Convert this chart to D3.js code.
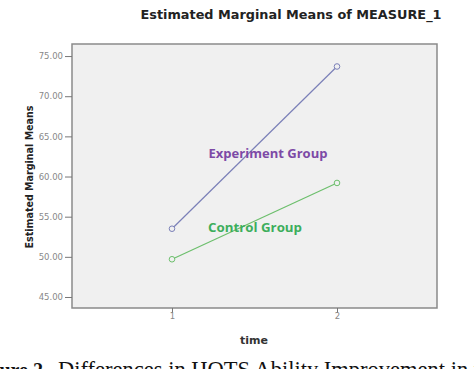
<!DOCTYPE html>
<html><head><meta charset="utf-8">
<script src="https://cdn.jsdelivr.net/npm/d3@7"></script>
<style>body{margin:0;background:#fff;overflow:hidden}</style>
</head><body>
<svg id="c" width="474" height="369"></svg>
<script>
const times = [1, 2];
const experiment = [53.5, 73.7];
const control = [49.7, 59.2];
const yTicks = [45, 50, 55, 60, 65, 70, 75];
const seriesNames = ["Experiment Group", "Control Group"];

const svg = d3.select("#c");
const x = d3.scaleLinear().domain([0.394, 2.606]).range([72, 437]);
const y = d3.scaleLinear().domain([43.63, 76.5]).range([308, 44]);

svg.append("rect").attr("x", 72).attr("y", 44).attr("width", 365).attr("height", 264)
  .attr("fill", "#f0f0f0").attr("stroke", "#8a8a8a").attr("stroke-width", 1.5);

const yAxis = svg.append("g").attr("transform", "translate(72,0)")
  .call(d3.axisLeft(y).tickValues(yTicks).tickFormat(d3.format(".2f")).tickSize(7).tickSizeOuter(0));
yAxis.select(".domain").remove();
yAxis.selectAll("line").attr("stroke", "#777");
yAxis.selectAll("text").attr("fill", "#888").attr("font-family", "DejaVu Sans").attr("font-size", 8.5).attr("dx", 1);

const xAxis = svg.append("g").attr("transform", "translate(0,308)")
  .call(d3.axisBottom(x).tickValues(times).tickFormat(d3.format("d")).tickSize(5).tickSizeOuter(0));
xAxis.select(".domain").remove();
xAxis.selectAll("line").attr("stroke", "#777");
xAxis.selectAll("text").attr("fill", "#888").attr("font-family", "DejaVu Sans").attr("font-size", 8.5).attr("dy", "0.4em");

const series = [
  {vals: experiment, color: "#7b80b8"},
  {vals: control, color: "#6cbf6c"}
];
const line = d3.line().x((d, i) => x(times[i])).y(d => y(d));
series.forEach(s => {
  svg.append("path").datum(s.vals).attr("d", line).attr("fill", "none")
    .attr("stroke", s.color).attr("stroke-width", 1.2);
  svg.selectAll(null).data(s.vals).enter().append("circle")
    .attr("cx", (d, i) => x(times[i])).attr("cy", d => y(d)).attr("r", 2.8)
    .attr("fill", "#f0f0f0").attr("stroke", s.color).attr("stroke-width", 1);
});

svg.append("text").attr("x", 268).attr("y", 158).attr("text-anchor", "middle")
  .attr("font-family", "Open Sans, Arial").attr("font-weight", "bold").attr("font-size", 13)
  .attr("textLength", 119).attr("lengthAdjust", "spacingAndGlyphs")
  .attr("fill", "#7d4aa6").text(seriesNames[0]);
svg.append("text").attr("x", 255).attr("y", 232).attr("text-anchor", "middle")
  .attr("font-family", "Open Sans, Arial").attr("font-weight", "bold").attr("font-size", 13)
  .attr("textLength", 94).attr("lengthAdjust", "spacingAndGlyphs")
  .attr("fill", "#3dae5c").text(seriesNames[1]);

svg.append("text").attr("x", 291).attr("y", 19).attr("text-anchor", "middle")
  .attr("font-family", "DejaVu Sans").attr("font-weight", "bold").attr("font-size", 11.5)
  .attr("textLength", 301).attr("lengthAdjust", "spacingAndGlyphs")
  .attr("fill", "#222").text("Estimated Marginal Means of MEASURE_1");

svg.append("text").attr("transform", "translate(33,177) rotate(-90)").attr("text-anchor", "middle")
  .attr("font-family", "DejaVu Sans").attr("font-weight", "bold").attr("font-size", 10.5)
  .attr("textLength", 143).attr("lengthAdjust", "spacingAndGlyphs")
  .attr("fill", "#222").text("Estimated Marginal Means");

svg.append("text").attr("x", 48).attr("y", 377).attr("text-anchor", "end")
  .attr("font-family", "Liberation Serif, Times New Roman, serif").attr("font-size", 20)
  .attr("font-weight", "bold").attr("fill", "#111").text("Figure 2.");
svg.append("text").attr("x", 58).attr("y", 377)
  .attr("font-family", "Liberation Serif, Times New Roman, serif").attr("font-size", 22.5)
  .attr("fill", "#111").text("Differences in HOTS Ability Improvement in the");

svg.append("text").attr("x", 254).attr("y", 344).attr("text-anchor", "middle")
  .attr("font-family", "DejaVu Sans").attr("font-weight", "bold").attr("font-size", 10)
  .attr("textLength", 28).attr("lengthAdjust", "spacingAndGlyphs")
  .attr("fill", "#333").text("time");
</script>
</body></html>
